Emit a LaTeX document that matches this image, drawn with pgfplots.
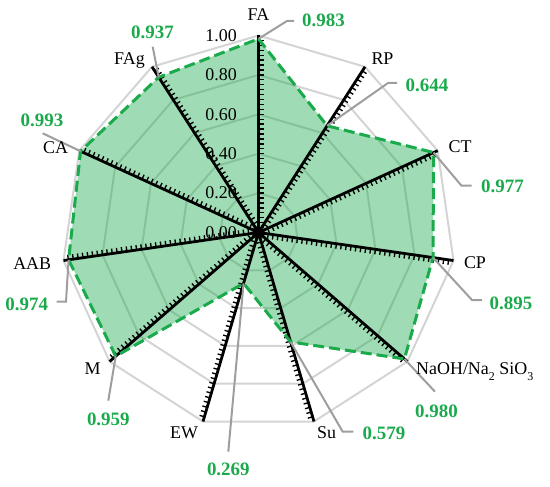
\documentclass[border=0pt]{standalone}
\usepackage{fontspec}
\setmainfont{Liberation Serif}
\usepackage{pgfplots}
\pgfplotsset{compat=1.18}
\usepgfplotslibrary{polar}
\usepackage{pgfplotstable}
\usetikzlibrary{decorations.pathreplacing}
\definecolor{gg}{RGB}{26,170,76}
\definecolor{gridg}{RGB}{212,212,212}
\definecolor{leadg}{RGB}{158,158,158}

% angle (deg, clockwise from top) and value
\pgfplotstableread{
ang val
90.0000 0.983
57.2727 0.644
24.5455 0.977
351.8182 0.895
319.0909 0.980
286.3636 0.579
253.6364 0.269
220.9091 0.959
188.1818 0.974
155.4545 0.993
122.7273 0.937
}\data

\newcommand\off[2]{([shift={(#1bp,#2bp)}]O)}

\begin{document}
\begin{tikzpicture}[
  lab/.style={font=\fontsize{18}{20}\selectfont, anchor=base, inner sep=0pt},
  val/.style={font=\fontsize{19}{21}\selectfont\bfseries, text=gg, anchor=base, inner sep=0pt},
  lead/.style={draw=leadg, line width=2bp},
  rt/.style={font=\fontsize{18}{20}\selectfont, anchor=east, inner sep=0pt, xshift=-21.5bp},
]
\begin{polaraxis}[
  scale only axis, width=394bp, height=394bp,
  xmin=0, xmax=360, ymin=0, ymax=1,
  hide axis, xtick=\empty, ytick=\empty, grid=none,
  clip=false,
]
% grid polygons
\pgfplotsinvokeforeach{0.2,0.4,0.6,0.8,1.0}{
  \addplot[gridg, line width=2bp, mark=none] table[x=ang, y expr=#1] {\data} -- cycle;
}
% filled area
\addplot[draw=none, fill=gg, fill opacity=0.42, mark=none] table[x=ang, y=val] {\data} -- cycle;
% black axes with ticks
\pgfplotsinvokeforeach{90.0000,57.2727,24.5455,351.8182,319.0909,286.3636,253.6364,220.9091,188.1818,155.4545,122.7273}{
  \addplot[black, line width=2.8bp, mark=none,
    postaction={decorate, draw=black, line width=1.35bp},
    decoration={ticks, segment length=4.925bp, amplitude=2.5bp, raise=-2.5bp}]
    coordinates {(#1,0) (#1,1)};
}
% dashed outline
\addplot[gg, line width=3bp, dash pattern=on 11bp off 5bp, mark=none] table[x=ang, y=val] {\data} -- cycle;

\coordinate (O) at (axis cs:0,0);
% leaders
\draw[lead] (axis cs:90.0000,0.983) -- \off{28.5}{211.5} -- \off{35.5}{211.5};
\draw[lead] (axis cs:57.2727,0.644) -- \off{129.5}{149.5} -- \off{138.5}{149.5};
\draw[lead] (axis cs:24.5455,0.977) -- \off{203}{46.8} -- \off{213}{46.8};
\draw[lead] (axis cs:351.8182,0.895) -- \off{213.5}{-67.5} -- \off{223.5}{-67.5};
\draw[lead] (axis cs:319.0909,0.980) -- \off{176.5}{-159.2};
\draw[lead] (axis cs:286.3636,0.579) -- \off{84.2}{-199.2} -- \off{94.8}{-199.2};
\draw[lead] (axis cs:253.6364,0.269) -- \off{-30.2}{-219.2};
\draw[lead] (axis cs:220.9091,0.959) -- \off{-150.2}{-168.2};
\draw[lead] (axis cs:188.1818,0.974) -- \off{-192.5}{-69.2} -- \off{-201.8}{-69.2};
\draw[lead] (axis cs:155.4545,0.993) -- \off{-215.8}{99.2};
\draw[lead] (axis cs:122.7273,0.937) -- \off{-105.8}{185.8};
% radial tick labels
\node[rt] at (axis cs:90,0) {0.00};
\node[rt] at (axis cs:90,0.2) {0.20};
\node[rt] at (axis cs:90,0.4) {0.40};
\node[rt] at (axis cs:90,0.6) {0.60};
\node[rt] at (axis cs:90,0.8) {0.80};
\node[rt] at (axis cs:90,1) {1.00};
\end{polaraxis}

% category labels
\node[lab] at \off{0}{211.5} {FA};
\node[lab] at \off{124}{167.5} {RP};
\node[lab] at \off{201.5}{79.5} {CT};
\node[lab] at \off{216.5}{-36.5} {CP};
\node[lab, anchor=base west] at \off{157.5}{-142.5} {NaOH/Na{\fontsize{12}{12}\selectfont\raisebox{-6bp}{2}} SiO{\fontsize{12}{12}\selectfont\raisebox{-6bp}{3}}};
\node[lab] at \off{68.2}{-205.5} {Su};
\node[lab] at \off{-74.5}{-205.5} {EW};
\node[lab] at \off{-166}{-142.5} {M};
\node[lab] at \off{-226.3}{-36.8} {AAB};
\node[lab] at \off{-203}{79.2} {CA};
\node[lab] at \off{-129}{167.5} {FAg};
% values
\node[val] at \off{65}{205.5} {0.983};
\node[val] at \off{168.5}{140.5} {0.644};
\node[val] at \off{244}{39.5} {0.977};
\node[val] at \off{252.5}{-77.5} {0.895};
\node[val] at \off{178}{-184.5} {0.980};
\node[val] at \off{125.5}{-206.5} {0.579};
\node[val] at \off{-30.2}{-242.5} {0.269};
\node[val] at \off{-150.2}{-192.5} {0.959};
\node[val] at \off{-231.8}{-78.2} {0.974};
\node[val] at \off{-216.5}{105.8} {0.993};
\node[val] at \off{-106}{194.2} {0.937};

\pgfresetboundingbox
\path[use as bounding box] \off{-258.5}{232.5} rectangle \off{291.5}{-254.5};
\end{tikzpicture}
\end{document}
